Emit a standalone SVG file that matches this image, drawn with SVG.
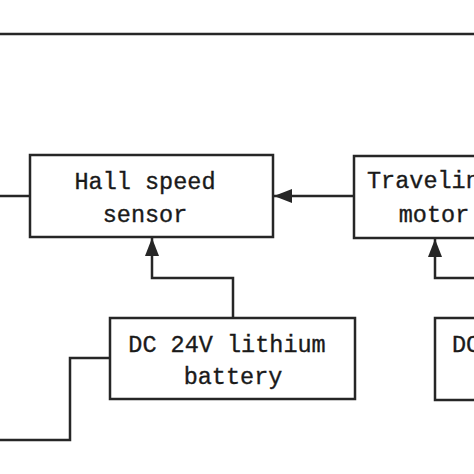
<svg xmlns="http://www.w3.org/2000/svg" width="474" height="474" viewBox="0 0 474 474">
<defs>
<style>
.box{fill:#fff;stroke:#262626;stroke-width:2.5}
.ln{fill:none;stroke:#262626;stroke-width:2.5}
.t{font-family:"Liberation Mono","DejaVu Sans Mono",monospace;font-size:23.5px;fill:#1a1a1a;stroke:#1a1a1a;stroke-width:0.35}
</style>
<marker id="ah" viewBox="0 0 18 14" refX="18" refY="7" markerWidth="18" markerHeight="14" markerUnits="userSpaceOnUse" orient="auto">
<path d="M0,0 L18,7 L0,14 Z" fill="#262626"/>
</marker>
</defs>
<rect width="474" height="474" fill="#fff"/>
<g id="connectors">
<line class="ln" x1="0" y1="34" x2="474" y2="34"/>
<line class="ln" x1="0" y1="196" x2="30" y2="196"/>
<line class="ln" x1="354" y1="196" x2="274" y2="196" marker-end="url(#ah)"/>
<polyline class="ln" points="233,318 233,278 152,278 152,238" marker-end="url(#ah)"/>
<polyline class="ln" points="474,278 435,278 435,239" marker-end="url(#ah)"/>
<polyline class="ln" points="110,358 70,358 70,440 0,440"/>
</g>
<g id="hall">
<rect class="box" x="30" y="155" width="243" height="82"/>
<text class="t" x="145" y="189" text-anchor="middle">Hall speed</text>
<text class="t" x="145" y="222" text-anchor="middle">sensor</text>
</g>
<g id="motor">
<rect class="box" x="354" y="156" width="170" height="82"/>
<text class="t" x="367" y="188">Traveling</text>
<text class="t" x="434" y="222" text-anchor="middle">motor</text>
</g>
<g id="battery">
<rect class="box" x="110" y="318" width="245" height="81"/>
<text class="t" x="227" y="352" text-anchor="middle">DC 24V lithium</text>
<text class="t" x="233" y="384" text-anchor="middle">battery</text>
</g>
<g id="dc">
<rect class="box" x="435" y="318" width="90" height="82"/>
<text class="t" x="452" y="352">DC</text>
</g>
</svg>
